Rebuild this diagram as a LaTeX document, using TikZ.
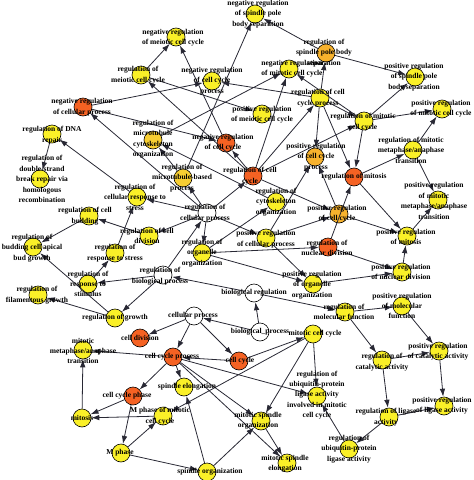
\documentclass[tikz,border=0pt]{standalone}
\usepackage{fontspec}
\setmainfont{Liberation Serif}
\usepackage{tikz}
\usetikzlibrary{arrows.meta}

\definecolor{goyel}{RGB}{250,240,40}
\definecolor{goorg}{RGB}{247,178,45}
\definecolor{gogold}{RGB}{247,206,50}
\definecolor{gored}{RGB}{245,98,35}
\definecolor{goedge}{RGB}{40,40,52}

\tikzset{
  term/.style={circle, draw=black, line width=0.6pt, fill=#1, minimum size=18pt, inner sep=0pt},
  lbl/.style={align=center, inner sep=0pt, font=\fontsize{7.5}{10.4}\selectfont\bfseries},
  isa/.style={goedge, line width=0.8pt, -{Latex[length=8pt,width=5.5pt]}}
}

\begin{document}
\begin{tikzpicture}[x=1pt, y=-1pt]
\useasboundingbox (0,0) rectangle (474,480);

% terms
\node[term=goyel]  (nrspbs) at (255,14) {};
\node[term=goyel]  (nrmeio) at (176,37) {};
\node[term=goyel]  (rmeio)  at (141,75) {};
\node[term=goyel]  (nrccp)  at (212,81) {};
\node[term=gored]  (nrcp)   at (83,107) {};
\node[term=goorg]  (rspb)   at (326,53) {};
\node[term=goyel]  (nrmcc)  at (289,69) {};
\node[term=goyel]  (prspbs) at (415,77) {};
\node[term=goyel]  (rccp)   at (320,98) {};
\node[term=goyel]  (prmcc)  at (442,109) {};
\node[term=goyel]  (rmcc)   at (364,121) {};
\node[term=goyel]  (prmeio) at (262,114) {};
\node[term=goyel]  (rdna)   at (52,134) {};
\node[term=goyel]  (rdsb)   at (40,179) {};
\node[term=gogold] (rmtco)  at (153,140) {};
\node[term=gored]  (nrcc)   at (226,143) {};
\node[term=gogold] (rmtbp)  at (183,178) {};
\node[term=gored]  (rcc)    at (253,176) {};
\node[term=goyel]  (rcrs)   at (137,197) {};
\node[term=white]  (rcp)    at (207,213) {};
\node[term=goyel]  (rcyto)  at (276,202) {};
\node[term=goorg]  (prccp)  at (315,157) {};
\node[term=gored]  (rmit)   at (354,177) {};
\node[term=goyel]  (rmat)   at (413,150) {};
\node[term=goyel]  (prmat)  at (438,200) {};
\node[term=goorg]  (prcc)   at (339,214) {};
\node[term=goyel]  (prmit)  at (407,236) {};
\node[term=goyel]  (prcp)   at (266,238) {};
\node[term=gored]  (rnd)    at (328,247) {};
\node[term=goyel]  (rcd)    at (149,236) {};
\node[term=goyel]  (rbud)   at (89,216) {};
\node[term=goyel]  (rbudg)  at (33,247) {};
\node[term=goyel]  (rrs)    at (115,253) {};
\node[term=goyel]  (roo)    at (202,253) {};
\node[term=goyel]  (rrstim) at (88,284) {};
\node[term=white]  (rbp)    at (163,275) {};
\node[term=goyel]  (rfil)   at (38,295) {};
\node[term=goyel]  (rgro)   at (115,318) {};
\node[term=white]  (breg)   at (254,293) {};
\node[term=goyel]  (proo)   at (313,284) {};
\node[term=goyel]  (prnd)   at (402,272) {};
\node[term=goyel]  (rmf)    at (345,312) {};
\node[term=goyel]  (prmf)   at (402,306) {};
\node[term=white]  (cellp)  at (194,316) {};
\node[term=white]  (biop)   at (260,332) {};
\node[term=goyel]  (mcc)    at (313,334) {};
\node[term=gored]  (celldiv) at (140,338) {};
\node[term=goyel]  (mmat)   at (83,350) {};
\node[term=gored]  (ccp)    at (173,357) {};
\node[term=gored]  (cc)     at (239,361) {};
\node[term=goyel]  (prca)   at (439,351) {};
\node[term=goyel]  (rca)    at (382,360) {};
\node[term=goyel]  (spel)   at (184,387) {};
\node[term=gored]  (ccph)   at (133,396) {};
\node[term=goyel]  (mitosis) at (82,418) {};
\node[term=goyel]  (mpmcc)  at (163,416) {};
\node[term=goyel]  (mph)    at (121,453) {};
\node[term=goyel]  (sporg)  at (207,472) {};
\node[term=goyel]  (msorg)  at (261,421) {};
\node[term=goyel]  (msel)   at (287,463) {};
\node[term=goyel]  (rubmcc) at (317,396) {};
\node[term=goyel]  (rub)    at (349,449) {};
\node[term=goyel]  (rla)    at (389,417) {};
\node[term=goyel]  (prla)   at (444,406) {};

% edges
\foreach \a/\b in {rmeio/nrmeio, nrcc/nrmeio, rcc/rmeio, rmeio/prmeio, nrcp/nrccp, rccp/nrccp,
  rspb/nrspbs, rmtbp/nrspbs, rspb/prspbs, rccp/rspb, rmcc/nrmcc, rcc/nrmcc, rmtco/nrmcc, rmcc/prmcc, rmcc/prspbs,
  rccp/prccp, rccp/rmcc, rccp/rmit, rmcc/rmit, rcc/rccp, rcc/rmcc, rcc/nrcc, rcc/prcc,
  rcp/rcc, rcp/nrcp, rcp/rcrs, rcp/rmtbp, rcp/rcd, rcp/roo, rcp/prcp, rbp/rcp, rbp/rrstim, rbp/rgro,
  breg/rbp, breg/rmf, biop/breg, biop/cellp, cellp/celldiv, cellp/ccp, cellp/cc, cc/ccp, cc/mcc,
  ccp/mmat, ccp/ccph, ccp/spel, ccp/msorg, ccp/msel, ccp/rubmcc, mcc/rubmcc, mcc/msorg, mcc/mpmcc,
  ccph/mitosis, ccph/mph, mph/mpmcc, mph/sporg, mpmcc/mitosis, mitosis/mmat, sporg/spel, sporg/msorg,
  msorg/msel, rmf/prmf, rmf/rca, prmf/prca, rca/prca, rca/rla, prca/prla, rla/prla, rla/rub,
  rub/rubmcc, rnd/rmit, rnd/prnd, prnd/prmit, proo/prnd, prcp/proo, roo/proo, roo/rnd, roo/rcyto,
  prcp/prcc, prcp/prccp, prcc/prccp, prcc/prmit, rmit/prmit, rmit/rmat, rmat/prmat, prmit/prmat,
  rmat/prmcc, rcrs/rdna, rdna/rdsb, rrs/rcrs, rrstim/rrs, rcd/rbud, rbud/rbudg, rgro/rbudg,
  rgro/rfil, rmtbp/rmtco, rcyto/rmtco, nrcp/nrcc}
  \draw[isa] (\a) -- (\b);

% labels
\node[lbl] (nrspbs-t) at (258,14) {negative regulation\\of spindle pole\\body separation};
\node[lbl] (nrmeio-t) at (173,38) {negative regulation\\of meiotic cell cycle};
\node[lbl] (rmeio-t) at (138,75) {regulation of\\meiotic cell cycle};
\node[lbl] (nrccp-t) at (212,81) {negative regulation\\of cell cycle\\process};
\node[lbl] (nrcp-t) at (82,107) {negative regulation\\of cellular process};
\node[lbl] (rspb-t) at (324,53) {regulation of\\spindle pole body\\separation};
\node[lbl] (nrmcc-t) at (292,69) {negative regulation\\of mitotic cell cycle};
\node[lbl] (prspbs-t) at (414,77) {positive regulation\\of spindle pole\\body separation};
\node[lbl] (rccp-t) at (318,98) {regulation of cell\\cycle process};
\node[lbl] (prmcc-t) at (441,109) {positive regulation\\of mitotic cell cycle};
\node[lbl] (rmcc-t) at (363,122) {regulation of mitotic\\cell cycle};
\node[lbl] (prmeio-t) at (262,115) {positive regulation\\of meiotic cell cycle};
\node[lbl] (rdna-t) at (52,135) {regulation of DNA\\repair};
\node[lbl] (rdsb-t) at (42,179) {regulation of\\double-strand\\break repair via\\homologous\\recombination};
\node[lbl] (rmtco-t) at (153,139) {regulation of\\microtubule\\cytoskeleton\\organization};
\node[lbl] (nrcc-t) at (223,143) {negative regulation\\of cell cycle};
\node[lbl] (rmtbp-t) at (182,178) {regulation of\\microtubule-based\\process};
\node[lbl] (rcc-t) at (250,176) {regulation of cell\\cycle};
\node[lbl] (rcrs-t) at (135,197) {regulation of\\cellular response to\\stress};
\node[lbl] (rcp-t) at (205,213) {regulation of\\cellular process};
\node[lbl] (rcyto-t) at (276,202) {regulation of\\cytoskeleton\\organization};
\node[lbl] (prccp-t) at (316,157) {positive regulation\\of cell cycle\\process};
\node[lbl] (rmit-t) at (354,177) {regulation of mitosis};
\node[lbl] (rmat-t) at (411,150) {regulation of mitotic\\metaphase/anaphase\\transition};
\node[lbl] (prmat-t) at (434,201) {positive regulation\\of mitotic\\metaphase/anaphase\\transition};
\node[lbl] (prcc-t) at (337,214) {positive regulation\\of cell cycle};
\node[lbl] (prmit-t) at (406,237) {positive regulation\\of mitosis};
\node[lbl] (prcp-t) at (266,239) {positive regulation\\of cellular process};
\node[lbl] (rnd-t) at (327,248) {regulation of\\nuclear division};
\node[lbl] (rcd-t) at (147,236) {regulation of cell\\division};
\node[lbl] (rbud-t) at (85,216) {regulation of cell\\budding};
\node[lbl] (rbudg-t) at (32,248) {regulation of\\budding cell apical\\bud growth};
\node[lbl] (rrs-t) at (115,253) {regulation of\\response to stress};
\node[lbl] (roo-t) at (202,253) {regulation of\\organelle\\organization};
\node[lbl] (rrstim-t) at (88,284) {regulation of\\response to\\stimulus};
\node[lbl] (rbp-t) at (160,276) {regulation of\\biological process};
\node[lbl] (rfil-t) at (37,295) {regulation of\\filamentous growth};
\node[lbl] (rgro-t) at (115,318) {regulation of growth};
\node[lbl] (breg-t) at (254,293) {biological regulation};
\node[lbl] (proo-t) at (312,285) {positive regulation\\of organelle\\organization};
\node[lbl] (prnd-t) at (401,272) {positive regulation\\of nuclear division};
\node[lbl] (rmf-t) at (344,312) {regulation of\\molecular function};
\node[lbl] (prmf-t) at (402,306) {positive regulation\\of molecular\\function};
\node[lbl] (cellp-t) at (193,316) {cellular process};
\node[lbl] (biop-t) at (260,332) {biological\_process};
\node[lbl] (mcc-t) at (315,334) {mitotic cell cycle};
\node[lbl] (celldiv-t) at (140,338) {cell division};
\node[lbl] (mmat-t) at (83,351) {mitotic\\metaphase/anaphase\\transition};
\node[lbl] (ccp-t) at (172,357) {cell cycle process};
\node[lbl] (cc-t) at (240,361) {cell cycle};
\node[lbl] (prca-t) at (438,352) {positive regulation\\of catalytic activity};
\node[lbl] (rca-t) at (382,362) {regulation of\\catalytic activity};
\node[lbl] (spel-t) at (187,387) {spindle elongation};
\node[lbl] (ccph-t) at (127,396) {cell cycle phase};
\node[lbl] (mitosis-t) at (82,418) {mitosis};
\node[lbl] (mpmcc-t) at (160,416) {M phase of mitotic\\cell cycle};
\node[lbl] (mph-t) at (120,453) {M phase};
\node[lbl] (sporg-t) at (210,472) {spindle organization};
\node[lbl] (msorg-t) at (258,421) {mitotic spindle\\organization};
\node[lbl] (msel-t) at (285,464) {mitotic spindle\\elongation};
\node[lbl] (rubmcc-t) at (317,395) {regulation of\\ubiquitin-protein\\ligase activity\\involved in mitotic\\cell cycle};
\node[lbl] (rub-t) at (349,449) {regulation of\\ubiquitin-protein\\ligase activity};
\node[lbl] (rla-t) at (386,417) {regulation of ligase\\activity};
\node[lbl] (prla-t) at (442,406) {positive regulation\\of ligase activity};
\end{tikzpicture}
\end{document}
